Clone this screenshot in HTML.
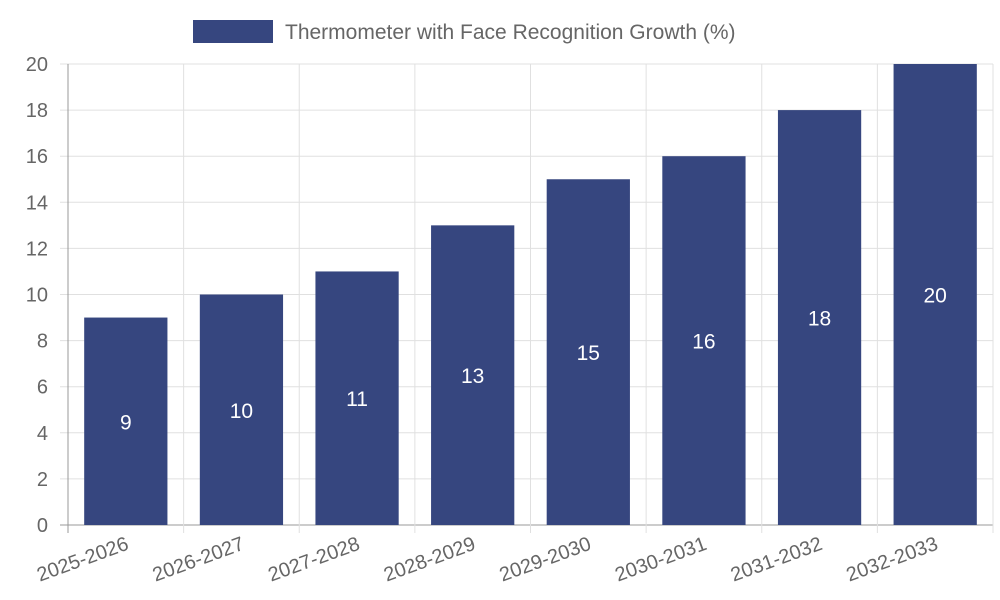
<!DOCTYPE html>
<html><head><meta charset="utf-8"><style>
html,body{margin:0;padding:0;background:#fff;}
svg{display:block;font-family:"Liberation Sans",sans-serif;}
</style></head><body>
<svg id="chart" width="1000" height="600" viewBox="0 0 1000 600">
<g>
<rect x="193" y="20" width="80" height="23" fill="#36467f"/>
<text x="285" y="39" font-size="21" fill="#666">Thermometer with Face Recognition Growth (%)</text>
</g>
<g id="grid"></g>
<g id="bars"></g>
<g id="labels"></g>
</svg>
<script>
const categories=["2025-2026","2026-2027","2027-2028","2028-2029","2029-2030","2030-2031","2031-2032","2032-2033"];
const values=[9,10,11,13,15,16,18,20];
const yTicks=[0,2,4,6,8,10,12,14,16,18,20];
const X0=68,X1=993,Y0=525,Y1=64,YMAX=20;
const NS="http://www.w3.org/2000/svg";
const band=(X1-X0)/categories.length;
const xs=i=>X0+band*i;
const ys=v=>Y0-(Y0-Y1)*v/YMAX;
function mk(tag,attrs,parent,txt){const e=document.createElementNS(NS,tag);for(const k in attrs)e.setAttribute(k,attrs[k]);if(txt!==undefined)e.textContent=txt;parent.appendChild(e);return e;}
const grid=document.getElementById('grid'),bars=document.getElementById('bars'),labels=document.getElementById('labels');
yTicks.forEach(t=>{
 const y=ys(t);
 const l=mk('line',{x1:X0-8,x2:X1,y1:y,y2:y,stroke:t===0?'#999':'#e0e0e0','stroke-width':1},grid);
 
 
 const tx=mk('text',{x:X0-20,y:y+7,'text-anchor':'end','font-size':20,fill:'#666'},labels,String(t));
 
 
});
for(let i=0;i<=categories.length;i++){
 const x=xs(i);
 const l=mk('line',{x1:x,x2:x,y1:Y1,y2:Y0+8,stroke:i===0?'#999':'#e0e0e0','stroke-width':1},grid);
 
 
}
categories.forEach((c,i)=>{
 const cx=xs(i)+band/2,w=band*0.72,y=ys(values[i]);
 const r=mk('rect',{x:cx-w/2,y:y,width:w,height:Y0-y,fill:'#36467f'},bars);
 
 
 const v=mk('text',{x:cx,y:(y+Y0)/2+8,'text-anchor':'middle','font-size':21,fill:'#fff'},bars,String(values[i]));
 
 
 const t=mk('text',{x:cx+4,y:Y0+24,'text-anchor':'end','font-size':20,fill:'#666',transform:`rotate(-20 ${cx+4} ${Y0+24})`},labels,c);
 
 
});
</script>
</body></html>
